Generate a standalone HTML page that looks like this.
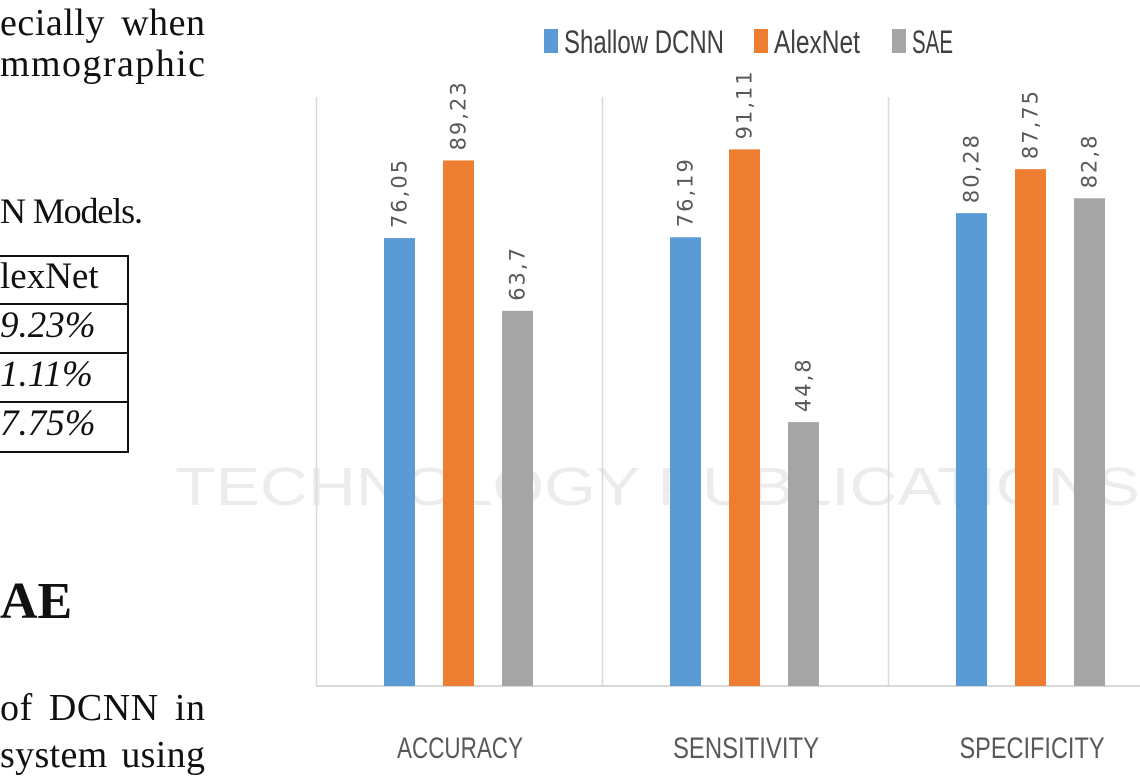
<!DOCTYPE html>
<html><head><meta charset="utf-8"><style>
body{margin:0;width:1140px;height:776px;background:#fff;position:relative;overflow:hidden}
</style></head><body>
<svg width="1140" height="776" style="position:absolute;left:0;top:0">
<text x="175" y="505" font-family="Liberation Sans" font-size="54" fill="#ececec" textLength="965" lengthAdjust="spacingAndGlyphs">TECHNOLOGY PUBLICATIONS</text>
<g font-family="Liberation Serif" fill="#111">
<text x="0" y="35" font-size="38" textLength="205" lengthAdjust="spacing" word-spacing="6">ecially when</text>
<text x="0" y="76" font-size="38" textLength="205" lengthAdjust="spacing">mmographic</text>
<text x="0" y="223" font-size="36" textLength="143" lengthAdjust="spacing">N Models.</text>
<g>
<rect x="-5" y="256" width="133" height="196" fill="none" stroke="#111" stroke-width="2"/>
<line x1="0" x2="128" y1="304" y2="304" stroke="#111" stroke-width="2"/>
<line x1="0" x2="128" y1="353" y2="353" stroke="#111" stroke-width="2"/>
<line x1="0" x2="128" y1="402" y2="402" stroke="#111" stroke-width="2"/>
<text x="0" y="288" font-size="37">lexNet</text>
<text x="0" y="337" font-size="37" font-style="italic">9.23%</text>
<text x="0" y="386" font-size="37" font-style="italic">1.11%</text>
<text x="0" y="435" font-size="37" font-style="italic">7.75%</text>
</g>
<text x="0" y="618" font-size="52" font-weight="bold">AE</text>
<text x="0" y="720" font-size="38" textLength="205" lengthAdjust="spacing" word-spacing="6">of DCNN in</text>
<text x="0" y="767" font-size="38" textLength="205" lengthAdjust="spacing" word-spacing="4">system using</text>
</g>
<g id="chart"></g>
</svg>
<script>
const categories=["ACCURACY","SENSITIVITY","SPECIFICITY"];
const series=["Shallow DCNN","AlexNet","SAE"];
const shallow=[76.05,76.19,80.28];
const alexnet=[89.23,91.11,87.75];
const sae=[63.7,44.8,82.8];
const labelsShallow=["76,05","76,19","80,28"];
const labelsAlex=["89,23","91,11","87,75"];
const labelsSae=["63,7","44,8","82,8"];
const colors=["#5b9bd5","#ed7d31","#a5a5a5"];
const NS="http://www.w3.org/2000/svg";
const g=document.getElementById('chart');
const x0=316,cw=286,y0=686,yTop=97;
const y=v=>y0-(v/100)*(y0-yTop);
function mk(t,a){const e=document.createElementNS(NS,t);for(const k in a)e.setAttribute(k,a[k]);g.appendChild(e);return e;}
for(let i=0;i<categories.length;i++){
 const l=mk('line',{x1:x0+i*cw+0.5,x2:x0+i*cw+0.5,y1:yTop,y2:y0,stroke:'#d9d9d9','stroke-width':1.5});
 
 
}
const ax=mk('line',{x1:x0,x2:1140,y1:y0,y2:y0,stroke:'#d9d9d9','stroke-width':2});


const all=[shallow,alexnet,sae],labs=[labelsShallow,labelsAlex,labelsSae];
const catLen=[126,146,145];
categories.forEach((c,i)=>{
 const cx=x0+i*cw;
 all.forEach((s,j)=>{
  const bx=cx+68+j*59,top=y(s[i]);
  const r=mk('rect',{x:bx,y:top,width:31,height:y0-top,fill:colors[j]});
  
  
  const tx=bx+15.5+7,ty=top-10;
  const t=mk('text',{x:tx,y:ty,transform:`rotate(-90 ${tx} ${ty})`,'font-family':'DejaVu Sans','font-size':21,fill:'#595959','letter-spacing':2});
  t.textContent=labs[j][i];
  
  
 });
 const t=mk('text',{x:cx+cw/2-catLen[i]/2+1,y:758,'font-family':'Liberation Sans','font-size':30,fill:'#595959',textLength:catLen[i],lengthAdjust:'spacingAndGlyphs'});
 t.textContent=c;
 
 
});
const lx=[544,754,892];
const lt=[160,86,41];
series.forEach((s,j)=>{
 const r=mk('rect',{x:lx[j],y:29,width:14,height:24,fill:colors[j]});
 
 
 const t=mk('text',{x:lx[j]+20,y:53,'font-family':'Liberation Sans','font-size':32,fill:'#404040',textLength:lt[j],lengthAdjust:'spacingAndGlyphs'});
 t.textContent=s;
 
 
});
</script>
</body></html>
